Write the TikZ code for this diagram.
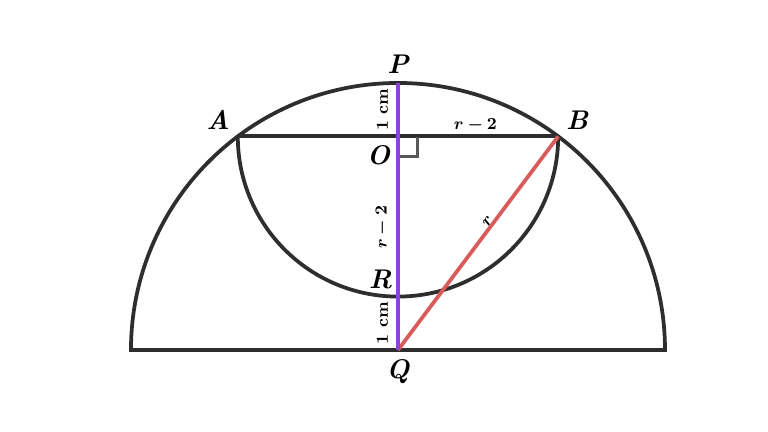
\documentclass[tikz,border=0pt]{standalone}
\usepackage{tikz}
\usepackage{bm}
\usetikzlibrary{positioning}
\definecolor{inkgray}{HTML}{2E2E2E}
\definecolor{violetline}{HTML}{8A45D6}
\definecolor{redline}{HTML}{D95B5B}

\begin{document}
\begin{tikzpicture}[line width=2pt,inkgray]
	\tikzstyle{point}=[font=\Large\bfseries\itshape,text=black,inner sep=1pt]
	\tikzstyle{length}=[font=\small\bfseries,text=black,inner sep=1pt]
	\useasboundingbox (-7.453,-1.536) rectangle (6.929,6.554);

	\coordinate (Q) at (0,0);
	\coordinate (P) at (0,5);
	\coordinate (O) at (0,4);
	\coordinate (R) at (0,1);
	\coordinate (A) at (-3,4);
	\coordinate (B) at (3,4);
	\coordinate (L) at (-5,0);
	\coordinate (M) at (5,0);

	% half circles and chords
	\draw (M) arc (0:180:5) -- cycle;
	\draw (A) arc (180:360:3);
	\draw (A) -- (B);
	\draw[gray!70!black,line width=1.8pt] ([yshift=-0.02cm]O) ++(0.36,0) |- ++(-0.36,-0.36);
	\draw[redline] (Q) -- (B);
	\draw[violetline] (Q) -- (P);

	\node[point] (p) [above=0.1cm of P] {P};
	\node[point] (a) [above left=0.06cm and 0.08cm of A] {A};
	\node[point] (b) [above right=0.06cm and 0.08cm of B] {B};
	\node[point] (o) [below left=0.1cm and 0.08cm of O] {O};
	\node[point] (r) [above left=0.08cm and 0.04cm of R] {R};
	\node[point] (q) [below=0.1cm of Q] {Q};

	\node[length,rotate=90] (po) at (-0.29,4.5) {1 cm};
	\node[length,rotate=90] (or) at (-0.29,2.3) {$\bm{r-2}$};
	\node[length,rotate=90] (rq) at (-0.29,0.5) {1 cm};
	\node[length] (ob) at (1.45,4.2) {$\bm{r-2}$};
	\node[length,rotate=53.1] (qb) at (1.68,2.4) {$\bm{r}$};
\end{tikzpicture}
\end{document}
